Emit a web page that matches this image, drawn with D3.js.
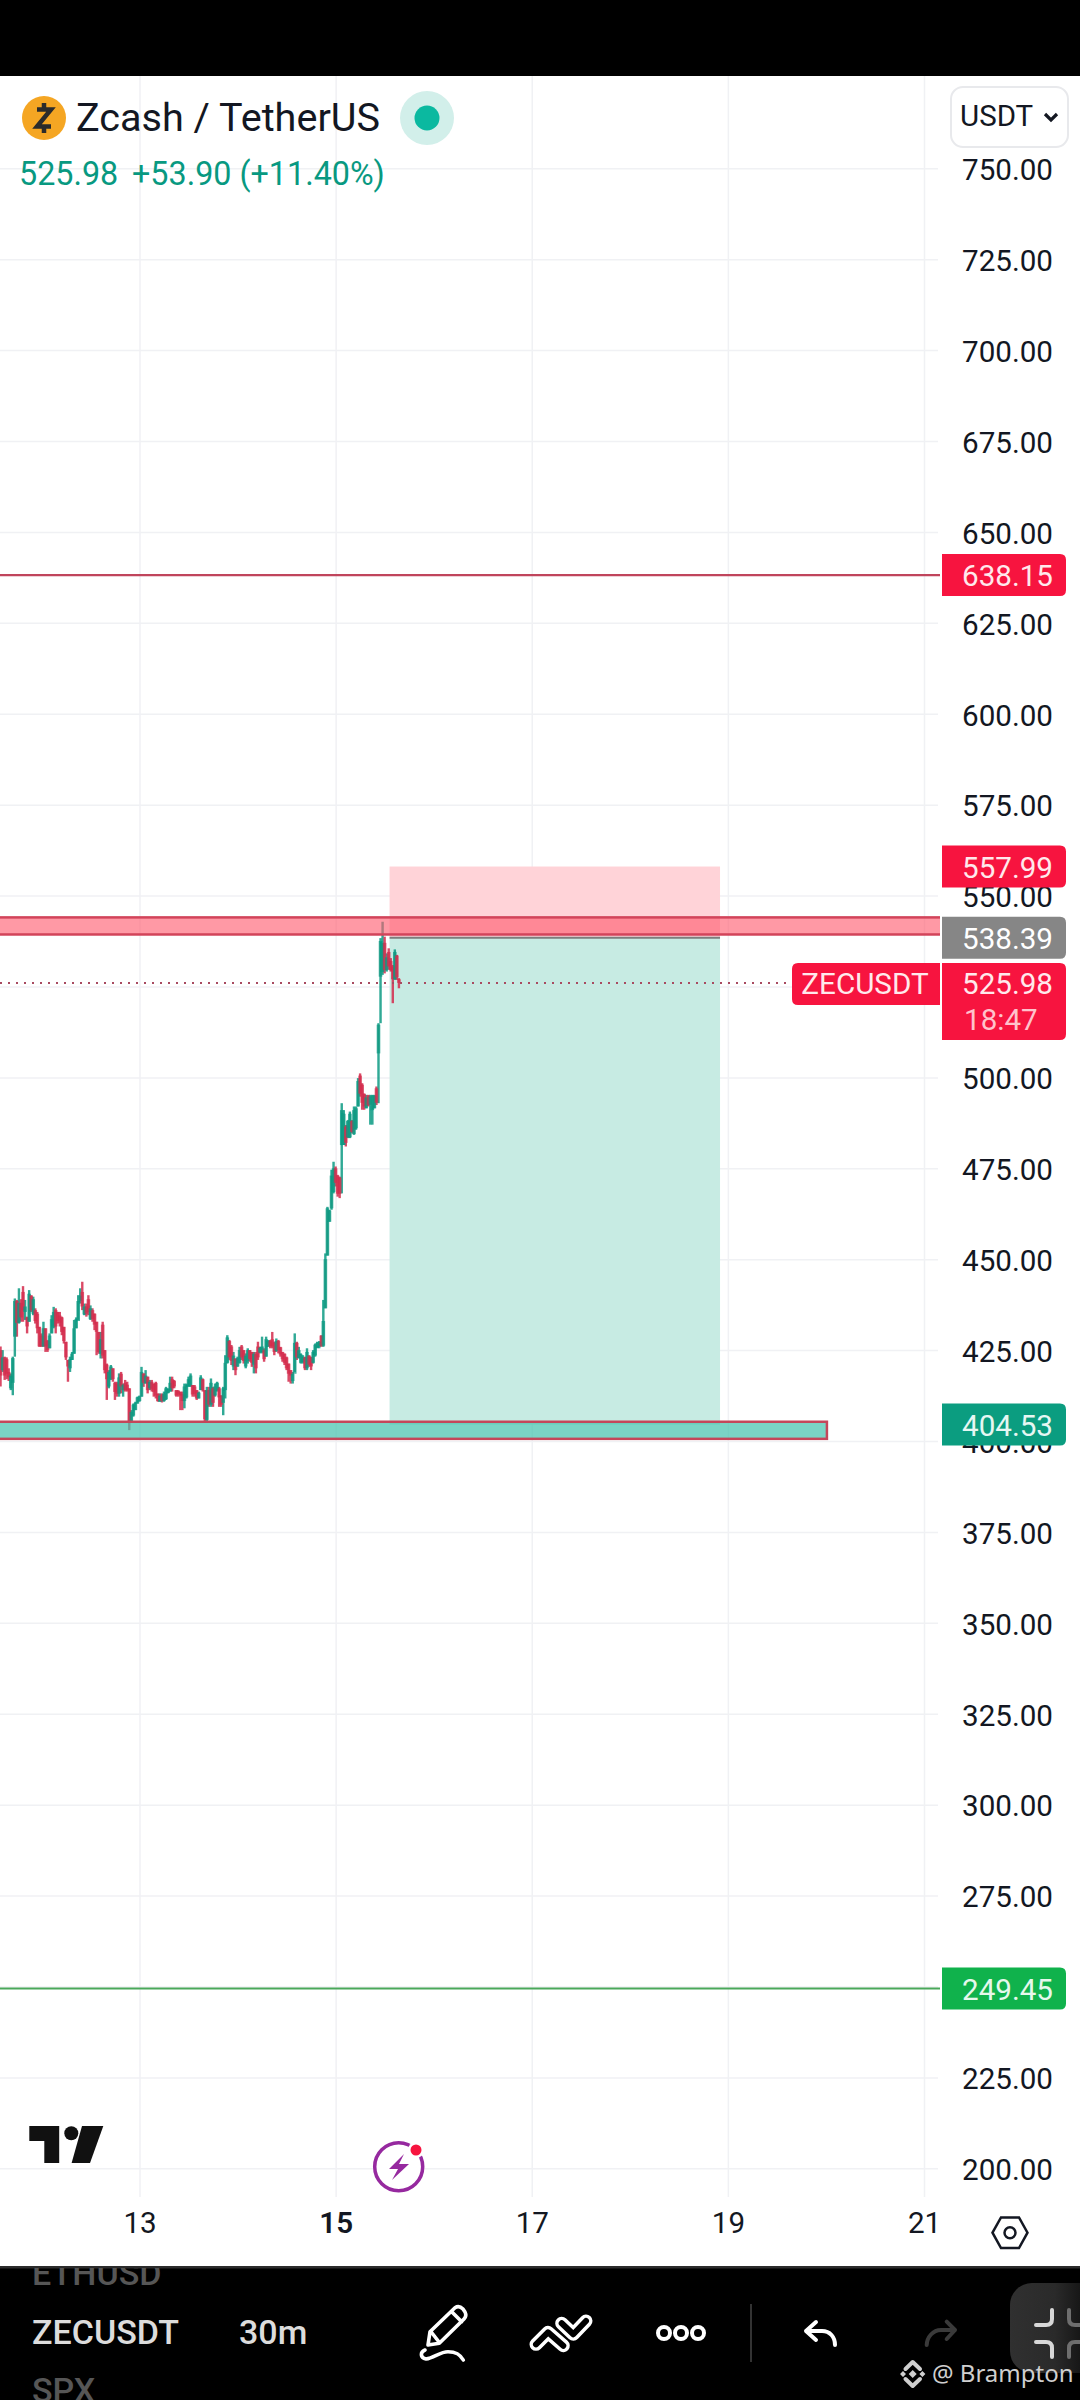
<!DOCTYPE html>
<html>
<head>
<meta charset="utf-8">
<script src="https://cdn.jsdelivr.net/npm/d3@7"></script>
<style>
  html, body { margin: 0; padding: 0; background: #fff; }
  svg { display: block; }
  text { font-family: Roboto, sans-serif; }
</style>
</head>
<body>
<svg id="chart"></svg>
<script>
// 30m candles
const candleOpen = [
  425,419.5,423,422.5,419,414.5,416,428.7,438.5,432.5,
  438,441,435.5,434,432.8,440,435,436,435,431.4,
  429,426,431,427.5,425.5,429.6,431.4,436,435.5,434.5,
  434,431.4,427.3,422.3,420,422.3,424,431,433,438.5,
  441,434.8,437,439,433.5,436,435,432.8,430,424,
  432,425,421,415,417,420,416,415.8,413,418.5,
  414,416,415.5,414.5,405.5,407,408.5,410.3,411,412.2,
  418.6,415.8,417.7,414.5,416.3,415.8,416,413,410.8,412.8,
  411,411.5,413.2,413.6,417,416.5,414,413.8,413.5,413,
  411,412,415,415,415.4,415,414,411.7,414,417,
  414,405.8,414,410,414.5,412.5,414,414.5,412.5,410.5,
  414,421.5,427.5,426,420.5,422.7,420.5,421.5,426,425,
  420.5,422,425,424.5,421,424,426,424.3,424.5,425,
  423.2,426,427.5,428,427,424.8,427.5,425.8,424.5,424,
  423,421.3,419.5,416.5,418.5,427,422.8,421.5,421.8,423,
  420,423.5,423,421.5,423.5,425.6,426,429,426.2,436.5,
  451,460.3,464,468.5,475,473,472.5,481.4,481.4,486.5,
  483.5,483.5,488,484.4,486,492,500.5,498,495.4,491.5,
  495,492.5,491,491.5,497,506.6,527.7,529,537,529.5,
  534.5,532,530.5,527,533.5,527
];
const candleHigh = [
  426,425,423.2,423,420,418.6,423.2,439.2,438.8,442,
  439,442.6,438.8,434.2,441.5,440.1,439.7,436.5,435.5,431.4,
  429.6,432.8,431,427.8,429.6,434.6,436.9,436.5,435.5,435.5,
  434.2,431.4,427.3,422.3,423.2,424.5,433.3,434,440.1,442,
  443.8,437.8,437.8,440.1,437.3,436.5,435.1,432.8,430,430,
  432.8,425,421.3,419.5,420.9,420,416.3,416.3,418.6,419,
  415.8,416.8,416.3,414.5,408.5,410.3,410.8,412.2,412.5,420.4,
  418.6,419.5,417.7,416.8,416.8,415.8,416.3,413.1,413.1,413.1,
  413.6,414.9,414.5,417.7,417.7,416.8,414,414,413.6,413.6,
  415.8,415.8,417.7,418.6,415.4,415.4,414,413.6,418.1,417.2,
  414,414.9,414.9,417.2,414.9,415.8,416.3,414.9,412.6,414.9,
  423.6,429.1,427.8,426.4,424.5,422.7,423.2,425.9,426.4,425,
  424.1,425.5,425,424.5,424.5,424.5,427.3,425.9,428.7,425.5,
  428.7,427.8,427.8,430,427.3,428.2,427.8,425.9,424.5,424.1,
  423.2,421.3,419.5,419,429.6,427.3,425.9,424.1,423.6,423.2,
  425.5,423.6,423.2,425,426.8,427.3,427.5,429.1,438.8,451.6,
  464.4,463.6,474.6,476.8,475.5,473.2,472.7,492.9,491,486.9,
  488.3,490.6,488.3,492,492,499.8,501.1,498.4,495.6,495.2,
  495.2,495.2,495.2,495.2,497.5,514.9,538.3,542.8,538.7,534.1,
  535.5,532.8,530.9,535.2,533.7,527.3
];
const candleLow = [
  415,419,416.8,417,416.5,414,412.6,423.2,428.7,432.3,
  432.8,432.8,433.3,429.6,432.8,435.5,434.6,432.3,429.6,425.9,
  425.9,425.9,424.5,424.5,425.5,429.6,431,429.6,432.3,431.5,
  429.1,426.8,422.3,416.3,419,422.3,424,431,433.3,437.8,
  436,434.6,434.2,434.6,433.3,432.8,430.5,423.6,424,422.7,
  422.7,418.6,411.3,414.5,416.8,416.3,411.3,412.2,412.2,413.1,
  412.2,413.6,413.6,403,405,406.7,408.5,410.3,410.8,412.2,
  414.9,415.8,413.1,414,413.6,412.2,411.7,410.8,410.8,410.6,
  410.8,411.3,413.1,413.6,413.6,414.5,412.2,412.2,408.5,408.5,
  409,411.7,414.9,414.9,412.2,412.2,411.3,411.7,414,413.6,
  405.3,405.3,409.4,409.4,409.4,412.2,413.6,409.4,409.4,407.1,
  411.7,421.3,422.3,420.9,419.5,418.1,420.4,421.3,422.3,421.3,
  420,421.3,421.8,420.4,418.6,418.6,422.3,424.1,424.1,421.8,
  423.2,425.9,425.5,425.5,423.6,424.5,424.1,423.2,421.8,420.9,
  419.5,416.3,415.8,415.8,419,422.3,422.7,421.3,421.3,419.5,
  419.5,420.4,419.5,421.3,423.2,425.5,425.5,425.9,425.9,436.5,
  451,460.3,463.6,468.1,470,467.2,466.8,468.1,481.4,481,
  483.3,483.3,484.6,484.2,485.6,492,494.7,491.1,491.1,491.5,
  492,487,487,491.5,492.4,492.9,514.9,528.2,528.6,529.1,
  529.6,529.1,520.4,526.8,526.8,524.5
];
const candleClose = [
  418,423,418,418.5,417.5,418,422.8,438.5,432.5,438,
  434,436,437,431.5,440.5,436,439,433,431,426,
  426,431,426,425,429,433.5,435.5,431.5,433,432.5,
  430,427.5,423,420.5,422.5,424,431,433.5,438.5,440,
  437,437,435,435.5,436.5,433.5,432,430,424.5,428,
  423.5,419.5,417,419,420.5,417,413.5,413,417.5,415,
  415.5,414,414,405.5,408,410,410.5,412,412.3,419,
  416,418,414,416.3,414.2,413.5,412.5,411,412.5,411,
  413,414.5,414.3,416,414.5,415,412.5,412.8,412.5,411,
  415,415.5,417,418,412.8,413,411.7,413.3,417.5,414,
  406,414,410,416,410.5,415,416,412,410,414.5,
  421.5,428.5,423,422,423.5,419.5,422.8,425,423,422,
  423.5,425,422.5,421.5,424,420,423,425.7,426,422.5,
  428,427.5,426,426,424.5,427.5,425,423.8,422.5,421.5,
  420,418.5,418,418.5,427,423,425,423.8,423,420,
  424.5,421,420.5,424.5,426.5,427,427.2,426.2,433,450,
  464,463.4,473,475,471,468,468,491,490,482,
  488,490,485,491,491.5,499,495.5,493,492,494.5,
  492.3,494.8,495,495,493,514.5,537.5,537,529.5,533,
  530.5,529.5,527,534.5,527.5,525.98
];
const firstCandleDay = 11.583;

const priceTicks = d3.range(200, 751, 25);
const dayTicks = [13, 15, 17, 19, 21];

// drawings on the chart
const upperZone = [539.3, 544.0];
const lowerZone = [400.6, 405.3];
const lowerZoneEndDay = 20.01;
const resistanceLevel = 638.15;
const supportLevel = 249.45;
const lastPrice = 525.98;
const position = { entry: 538.39, stop: 557.99, target: 404.53, fromDay: 15.55, toDay: 18.92 };

const width = 1080, height = 2400;
const paneRight = 940, paneTop = 76, paneBottom = 2197, barTop = 2266;

const RED = '#f7143f', CANDLE_RED = '#d42c4c', TEAL = '#089981', INK = '#131722', GRID = '#f0f1f4';
const fontSize = 29.6;

const svg = d3.select('#chart').attr('width', width).attr('height', height);
svg.append('rect').attr('width', width).attr('height', height).attr('fill', '#fff');

const defs = svg.append('defs');
defs.append('clipPath').attr('id', 'pane').append('rect')
  .attr('x', 0).attr('y', paneTop).attr('width', paneRight).attr('height', paneBottom - paneTop);
defs.append('clipPath').attr('id', 'bar').append('rect')
  .attr('x', 0).attr('y', barTop + 2).attr('width', width).attr('height', height - barTop - 2);
defs.append('filter').attr('id', 'soft')
  .attr('x', '-5%').attr('y', '-5%').attr('width', '110%').attr('height', '110%')
  .append('feGaussianBlur').attr('stdDeviation', 0.55);
const fade = defs.append('linearGradient').attr('id', 'fade');
fade.append('stop').attr('offset', '0%').attr('stop-color', '#303030');
fade.append('stop').attr('offset', '45%').attr('stop-color', '#2a2a2a');
fade.append('stop').attr('offset', '100%').attr('stop-color', '#000');

const x = d3.scaleLinear().domain([13, 21]).range([139.5, 924]);
const y = d3.scaleLinear().domain([200, 750]).range([2168.3, 168.3]);

// grid
const gridY = svg.append('g')
  .call(d3.axisLeft(y).tickValues(priceTicks).tickSize(-938).tickFormat(''));
gridY.select('.domain').remove();
gridY.selectAll('line').attr('stroke', GRID).attr('stroke-width', 1.5);

const gridX = svg.append('g').attr('transform', `translate(0,${paneBottom})`)
  .call(d3.axisBottom(x).tickValues(dayTicks).tickSize(-(paneBottom - paneTop)).tickFormat(''));
gridX.select('.domain').remove();
gridX.selectAll('line').attr('stroke', GRID).attr('stroke-width', 1.5);

const chart = svg.append('g').attr('clip-path', 'url(#pane)');

// short position tool
chart.append('rect')
  .attr('x', x(position.fromDay)).attr('width', x(position.toDay) - x(position.fromDay))
  .attr('y', y(position.stop)).attr('height', y(position.entry) - y(position.stop))
  .attr('fill', '#ffd3d8');
chart.append('rect')
  .attr('x', x(position.fromDay)).attr('width', x(position.toDay) - x(position.fromDay))
  .attr('y', y(position.entry)).attr('height', y(position.target) - y(position.entry))
  .attr('fill', '#c7ebe3');
chart.append('line')
  .attr('x1', x(position.fromDay)).attr('x2', x(position.toDay))
  .attr('y1', y(position.entry)).attr('y2', y(position.entry))
  .attr('stroke', '#7d7d7d').attr('stroke-width', 2);

// horizontal levels
chart.append('line')
  .attr('x1', 0).attr('x2', paneRight)
  .attr('y1', y(resistanceLevel)).attr('y2', y(resistanceLevel))
  .attr('stroke', '#c0455c').attr('stroke-width', 2.2);
chart.append('line')
  .attr('x1', 0).attr('x2', paneRight)
  .attr('y1', y(supportLevel)).attr('y2', y(supportLevel))
  .attr('stroke', '#4aa85a').attr('stroke-width', 2.2);

// candles
const candles = candleOpen.map((o, i) => ({
  day: firstCandleDay + i / 48, o, h: candleHigh[i], l: candleLow[i], c: candleClose[i]
}));
const candleG = chart.append('g').attr('filter', 'url(#soft)');
candleG.selectAll('.wick').data(candles).join('line')
  .attr('class', 'wick')
  .attr('x1', d => x(d.day)).attr('x2', d => x(d.day))
  .attr('y1', d => y(d.h)).attr('y2', d => y(d.l))
  .attr('stroke', d => d.c >= d.o ? TEAL : CANDLE_RED)
  .attr('stroke-opacity', 0.85)
  .attr('stroke-width', 2.4);
candleG.selectAll('.body').data(candles).join('rect')
  .attr('class', 'body')
  .attr('x', d => x(d.day) - 1.8).attr('width', 3.6)
  .attr('y', d => y(Math.max(d.o, d.c)))
  .attr('height', d => Math.max(1, Math.abs(y(d.o) - y(d.c))))
  .attr('fill', d => d.c >= d.o ? TEAL : CANDLE_RED)
  .attr('fill-opacity', 0.72);

// zones
chart.append('rect')
  .attr('x', -4).attr('width', paneRight + 8)
  .attr('y', y(upperZone[1])).attr('height', y(upperZone[0]) - y(upperZone[1]))
  .attr('fill', 'rgba(255,90,110,0.62)').attr('stroke', '#d2445a').attr('stroke-width', 2.5);
chart.append('rect')
  .attr('x', -4).attr('width', x(lowerZoneEndDay) + 4)
  .attr('y', y(lowerZone[1])).attr('height', y(lowerZone[0]) - y(lowerZone[1]))
  .attr('fill', 'rgba(70,195,175,0.72)').attr('stroke', '#c4475a').attr('stroke-width', 2.5);

// last price line
chart.append('line')
  .attr('x1', 0).attr('x2', 792)
  .attr('y1', y(lastPrice)).attr('y2', y(lastPrice))
  .attr('stroke', '#a84a60').attr('stroke-width', 2).attr('stroke-dasharray', '2 6');

// price axis
const axisY = svg.append('g').attr('transform', 'translate(1053,0)')
  .call(d3.axisLeft(y).tickValues(priceTicks).tickSize(0).tickPadding(0).tickFormat(d3.format('.2f')));
axisY.select('.domain').remove();
axisY.selectAll('text').attr('font-size', fontSize).attr('fill', INK).attr('dy', '0.38em')
  .style('font-family', 'Roboto');

// time axis
const axisX = svg.append('g').attr('transform', 'translate(0,2212)')
  .call(d3.axisBottom(x).tickValues(dayTicks).tickSize(0).tickPadding(0).tickFormat(d => d));
axisX.select('.domain').remove();
axisX.selectAll('text').attr('font-size', fontSize).attr('fill', INK).style('font-family', 'Roboto')
  .attr('font-weight', d => d === 15 ? 600 : 400);

// price tags, flat on the left and rounded on the right
function tagPath(x0, x1, y0, y1, r) {
  return `M${x0},${y0}H${x1 - r}Q${x1},${y0} ${x1},${y0 + r}V${y1 - r}Q${x1},${y1} ${x1 - r},${y1}H${x0}Z`;
}
function priceTag(value, fill, textFill) {
  const cy = y(value);
  svg.append('path').attr('d', tagPath(942, 1066, cy - 21, cy + 21, 6)).attr('fill', fill);
  svg.append('text').attr('x', 1053).attr('y', cy).attr('dy', '0.38em')
    .attr('text-anchor', 'end').attr('font-size', fontSize).attr('fill', textFill)
    .text(d3.format('.2f')(value));
}
priceTag(resistanceLevel, RED, '#ffe9ec');
priceTag(position.stop, RED, '#ffe9ec');
priceTag(position.entry, '#868686', '#fff');
priceTag(position.target, '#0b9d80', '#e6f7f3');
priceTag(supportLevel, '#10b24c', '#e6f8ec');

// last price tag with countdown and symbol flag
const lastY = y(lastPrice);
svg.append('path').attr('d', tagPath(942, 1066, lastY - 20, lastY + 57, 6)).attr('fill', RED);
svg.append('text').attr('x', 1053).attr('y', lastY).attr('dy', '0.38em')
  .attr('text-anchor', 'end').attr('font-size', fontSize).attr('fill', '#ffe9ec').text(d3.format('.2f')(lastPrice));
svg.append('text').attr('x', 964).attr('y', lastY + 36).attr('dy', '0.38em')
  .attr('font-size', fontSize).attr('fill', '#ffc2cc').text('18:47');
svg.append('path')
  .attr('d', `M940,${lastY - 20}H798Q792,${lastY - 20} 792,${lastY - 14}V${lastY + 16}Q792,${lastY + 22} 798,${lastY + 22}H940Z`)
  .attr('fill', RED);
svg.append('text').attr('x', 865).attr('y', lastY).attr('dy', '0.38em')
  .attr('text-anchor', 'middle').attr('font-size', fontSize).attr('fill', '#ffe9ec').text('ZECUSDT');

// header
svg.append('circle').attr('cx', 44).attr('cy', 118).attr('r', 22).attr('fill', '#f5a623');
svg.append('path').attr('d', 'M37,109.5H51L37,126.5H51M44,103V109M44,127V133')
  .attr('fill', 'none').attr('stroke', '#2b2b2b').attr('stroke-width', 4.5);
svg.append('text').attr('x', 76).attr('y', 131).attr('font-size', 39.6).attr('fill', INK).text('Zcash / TetherUS');
svg.append('circle').attr('cx', 427).attr('cy', 118).attr('r', 27).attr('fill', '#d2efea');
svg.append('circle').attr('cx', 427).attr('cy', 118).attr('r', 12.5).attr('fill', '#0bb9a0');
svg.append('text').attr('x', 19).attr('y', 185).attr('font-size', 32.3).attr('fill', TEAL).text('525.98');
svg.append('text').attr('x', 132).attr('y', 185).attr('font-size', 32.3).attr('fill', TEAL).text('+53.90 (+11.40%)');

// currency button
svg.append('rect').attr('x', 951).attr('y', 87).attr('width', 117).attr('height', 60).attr('rx', 12)
  .attr('fill', '#fff').attr('stroke', '#e8e9ec').attr('stroke-width', 2);
svg.append('text').attr('x', 960).attr('y', 126).attr('font-size', 29.5).attr('fill', INK).text('USDT');
svg.append('path').attr('d', 'M1045,114L1051,120L1057,114').attr('fill', 'none').attr('stroke', INK).attr('stroke-width', 3.2);

// watermark logo
svg.append('path').attr('d', 'M29.3,2126H59.2V2163H44.3V2141H29.3Z').attr('fill', '#111');
svg.append('circle').attr('cx', 71.3).attr('cy', 2133.3).attr('r', 7).attr('fill', '#111');
svg.append('path').attr('d', 'M82,2126H103.3L90,2163H71.6Z').attr('fill', '#111');

// bolt icon
svg.append('circle').attr('cx', 398.7).attr('cy', 2166.7).attr('r', 24)
  .attr('fill', '#fff').attr('stroke', '#96299f').attr('stroke-width', 3.5);
svg.append('path').attr('d', 'M404,2154L389,2169H398L392,2180L409,2164H399Z').attr('fill', '#96299f');
svg.append('circle').attr('cx', 416).attr('cy', 2150).attr('r', 8).attr('fill', '#fff');
svg.append('circle').attr('cx', 416).attr('cy', 2150).attr('r', 5.5).attr('fill', RED);

// settings hexagon
svg.append('path').attr('d', 'M992.5,2232.7L1001,2217.5H1019L1027.5,2232.7L1019,2248H1001Z')
  .attr('fill', 'none').attr('stroke', INK).attr('stroke-width', 2.5);
svg.append('circle').attr('cx', 1010).attr('cy', 2232.7).attr('r', 5.5)
  .attr('fill', 'none').attr('stroke', INK).attr('stroke-width', 2.5);

// black bands
svg.append('rect').attr('width', width).attr('height', paneTop).attr('fill', '#000');
svg.append('rect').attr('y', barTop).attr('width', width).attr('height', height - barTop).attr('fill', '#000');
svg.append('rect').attr('y', barTop).attr('width', width).attr('height', 2.5).attr('fill', '#2c2c2c');

// bottom toolbar
const toolbar = svg.append('g').attr('clip-path', 'url(#bar)');
toolbar.append('text').attr('x', 32).attr('y', 2285).attr('font-size', 34).attr('font-weight', 500).attr('fill', '#565656').text('ETHUSD');
toolbar.append('text').attr('x', 32).attr('y', 2402).attr('font-size', 34).attr('font-weight', 500).attr('fill', '#565656').text('SPX');
toolbar.append('text').attr('x', 32).attr('y', 2344).attr('font-size', 34).attr('font-weight', 500).attr('fill', '#dcdcdc').text('ZECUSDT');
toolbar.append('text').attr('x', 239).attr('y', 2344).attr('font-size', 34).attr('font-weight', 500).attr('fill', '#dcdcdc').text('30m');

const icon = (d, stroke, w) => toolbar.append('path').attr('d', d).attr('fill', 'none')
  .attr('stroke', stroke).attr('stroke-width', w).attr('stroke-linecap', 'round').attr('stroke-linejoin', 'round');
// pencil
icon('M430,2331.7L455,2307.7Q459,2305 463,2309L465,2312Q467,2316 464,2319L439.3,2343.3L428,2345ZM432,2333L439,2342M451.7,2311.7L461.7,2321.7', '#fff', 3.6);
icon('M425,2350C420,2352 420,2358 426,2359C434,2358 440,2351.7 448,2351.7C456,2351.7 460,2354 463.3,2360', '#fff', 3.6);
// drawing tools, outlined zigzag
['#fff', '#000'].forEach((c, i) => {
  icon('M536,2344.3L548,2332.3L563.3,2345.7', c, i ? 6 : 13);
  icon('M561.7,2323.3L573.3,2334.3L586,2321', c, i ? 6 : 13);
});
[664, 681, 698].forEach(cx => {
  toolbar.append('circle').attr('cx', cx).attr('cy', 2333).attr('r', 6)
    .attr('fill', 'none').attr('stroke', '#fff').attr('stroke-width', 4);
});
toolbar.append('line').attr('x1', 751).attr('x2', 751).attr('y1', 2304).attr('y2', 2362)
  .attr('stroke', '#333').attr('stroke-width', 2);
icon('M816,2322L806,2331L816,2340M806,2331H822C830,2331 835,2337 835,2345', '#fff', 4);
icon('M946.7,2321.7L955,2330L946.7,2339M955,2330H941C933,2330 927,2337 926.7,2345', '#3a3a3a', 4);

// fullscreen button
toolbar.append('rect').attr('x', 1010).attr('y', 2283).attr('width', 100).attr('height', 90).attr('rx', 22).attr('fill', 'url(#fade)');
icon('M1036,2325H1046Q1052,2325 1052,2319V2310M1036,2342H1046Q1052,2342 1052,2348V2357', '#d8d8d8', 4);
icon('M1069,2310V2319Q1069,2325 1075,2325H1080M1069,2357V2348Q1069,2342 1075,2342H1080', '#6e6e6e', 4);

// watermark text
icon('M905.5,2369L912.7,2362L920,2369M905.5,2379L912.7,2386L920,2379', '#cfcfcf', 4);
toolbar.append('path').attr('d', 'M912.7,2370L916.7,2374L912.7,2378L908.7,2374ZM900,2374L903,2371L906,2374L903,2377ZM919.4,2374L922.4,2371L925.4,2374L922.4,2377Z')
  .attr('fill', '#cfcfcf');
toolbar.append('text').attr('x', 932).attr('y', 2382).attr('font-size', 24)
  .style('font-family', '"Noto Sans"').attr('fill', '#cfcfcf').text('@ Brampton');
</script>
</body>
</html>
